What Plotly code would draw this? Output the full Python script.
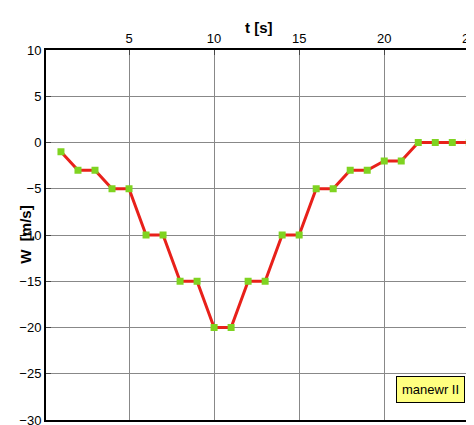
import plotly.graph_objects as go

t = list(range(1, 26))
w = [-1, -3, -3, -5, -5, -10, -10, -15, -15, -20, -20, -15, -15, -10, -10,
     -5, -5, -3, -3, -2, -2, 0, 0, 0, 0]

fig = go.Figure()
fig.add_trace(go.Scatter(x=t, y=w, mode='lines+markers',
                         line=dict(color='#e8201a', width=3),
                         marker=dict(symbol='square', size=7, color='#7fd321'),
                         showlegend=False))

fig.add_annotation(x=0.985, y=0.045, xref='paper', yref='paper',
                   xanchor='right', yanchor='bottom', text='manewr II',
                   showarrow=False, bgcolor='#ffff80', bordercolor='black',
                   borderwidth=1, borderpad=5,
                   font=dict(family='Arial', size=13, color='black'))
# axis titles placed by hand so the plot area keeps the reference margins
fig.add_annotation(x=-0.075, y=0.5, xref='paper', yref='paper', textangle=-90,
                   text='<b>W  [m/s]</b>', showarrow=False,
                   font=dict(family='Arial', size=15, color='black'))
fig.add_annotation(x=0.5, y=1.09, xref='paper', yref='paper',
                   text='<b>t [s]</b>', showarrow=False,
                   font=dict(family='Arial', size=15, color='black'))

fig.update_layout(
    width=474, height=425, plot_bgcolor='white', paper_bgcolor='white',
    margin=dict(l=38, r=11, t=42, b=13),
    font=dict(family='Arial', size=13, color='black'),
    xaxis=dict(side='top', range=[0.12, 25.1], tickvals=[5, 10, 15, 20, 25],
               showgrid=True, gridcolor='#888', gridwidth=1, zeroline=False,
               showline=True, linecolor='black', linewidth=2, mirror=True,
               ticks='inside', ticklen=5, automargin=False),
    yaxis=dict(range=[-30, 10], dtick=5, showgrid=True, gridcolor='#888',
               gridwidth=1, zeroline=False, showline=True, linecolor='black',
               linewidth=2, mirror=True, ticks='inside', ticklen=5,
               automargin=False),
)

fig.write_html("out.html")
